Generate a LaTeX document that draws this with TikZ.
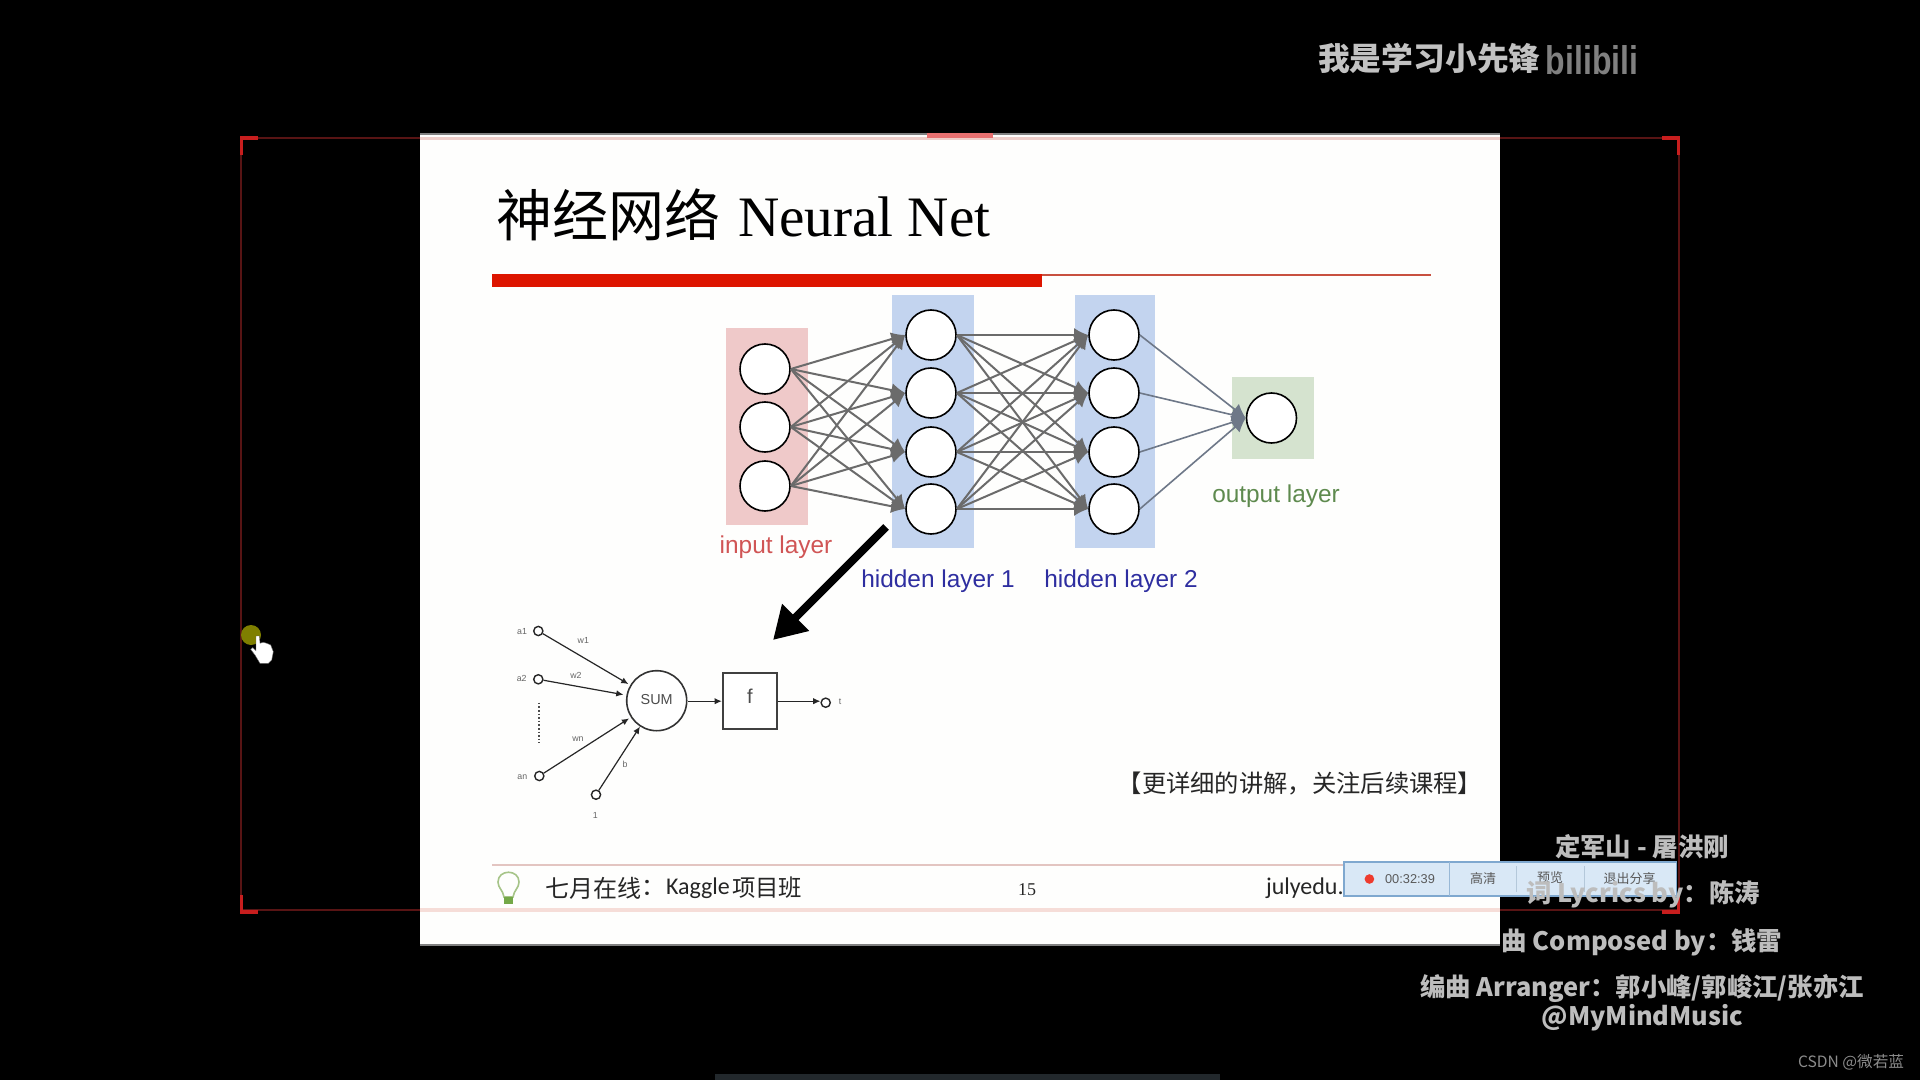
\documentclass[tikz,border=0pt]{standalone}
\usepackage{fontspec}
\usetikzlibrary{arrows.meta}
\setmainfont{Liberation Serif}
\newfontfamily\cjk{Noto Sans CJK SC}
\newfontfamily\arial{Liberation Sans}
\newfontfamily\carl{Carlito}
\newcommand\fsz[1]{\fontsize{#1}{#1}\selectfont}
\definecolor{slidewhite}{HTML}{FEFEFD}
\definecolor{pinkline}{HTML}{EFCFCB}
\definecolor{palepink}{HTML}{F6DDD8}
\definecolor{framedark}{HTML}{581414}
\definecolor{framered}{HTML}{C81E1E}
\definecolor{barred}{HTML}{DD1500}
\definecolor{barthin}{HTML}{C85040}
\definecolor{overlay}{HTML}{BDBDBD}
\definecolor{stripc}{HTML}{22282C}
\definecolor{markc}{HTML}{E87070}
\definecolor{pinkbg}{HTML}{EFC9C9}
\definecolor{bluebg}{HTML}{C3D4EF}
\definecolor{greenbg}{HTML}{D5E3CF}
\definecolor{inputc}{HTML}{D05555}
\definecolor{hiddenc}{HTML}{2E2EA0}
\definecolor{outc}{HTML}{5E8A4E}
\definecolor{outline}{HTML}{6E7888}
\definecolor{bulbl}{HTML}{A6C488}
\definecolor{bulbb}{HTML}{74A848}
\definecolor{tbedge}{HTML}{7FA8CF}
\definecolor{tbfill}{HTML}{D9E8F6}
\definecolor{tbsepa}{HTML}{98B8D6}
\definecolor{tbsepb}{HTML}{B4C8DA}
\definecolor{dotred}{HTML}{EE3B2E}
\definecolor{wmc}{HTML}{C2C2C2}
\definecolor{csdnc}{HTML}{8C8C8C}
\definecolor{bilic}{HTML}{808080}
\definecolor{cursordot}{HTML}{7F7F00}
\tikzset{
  x=0.5pt,y=-0.5pt,
  txt/.style={inner sep=0pt,outer sep=0pt,anchor=center},
  neuron/.style={circle,draw=black,fill=white,line width=0.8pt,minimum size=25pt,inner sep=0pt},
  netarrow/.style={draw=black!58,line width=1pt,-{Latex[length=7pt,width=7pt]}},
  layerlabel/.style={txt,font=\arial\fsz{12.2}},
  port/.style={circle,draw=black!85,fill=white,line width=0.7pt,minimum size=4.6pt,inner sep=0pt},
  wire/.style={draw=black!85,line width=0.6pt,-{Latex[length=3.6pt,width=3.2pt]}},
  small/.style={txt,font=\arial\fsz{4.4},text=black!60},
  lyric/.style={txt,font=\cjk\bfseries\fsz{12.7},text=overlay},
  barlabel/.style={txt,font=\cjk\fsz{6.5},text=black!65}
}
\begin{document}
\begin{tikzpicture}
\useasboundingbox (0,0) rectangle (1920,1080);
\fill[black] (0,0) rectangle (1920,1080);
% bottom strip
\fill[stripc] (715,1074) rectangle (1220,1080);
% frame on black
\draw[framedark,line width=1pt] (241,138) rectangle (1679,910);
% slide
\fill[slidewhite] (420,133) rectangle (1500,945);
\fill[black!50] (420,133) rectangle (1500,135);
\fill[black!50] (420,944) rectangle (1500,945.5);
\draw[pinkline,line width=1.6pt] (420,138.5) -- (1500,138.5);
\draw[palepink,line width=1.6pt] (420,910) -- (1500,910);
\fill[markc] (927,133) rectangle (993,138);
% corners
\fill[framered] (240,136) rectangle (258,140);
\fill[framered] (240,136) rectangle (243,155);
\fill[framered] (1662,136) rectangle (1680,140);
\fill[framered] (1677,136) rectangle (1680,155);
\fill[framered] (240,910) rectangle (258,914);
\fill[framered] (240,895) rectangle (243,914);
\fill[framered] (1662,910) rectangle (1680,914);
\fill[framered] (1677,895) rectangle (1680,914);
% title
\node[txt,anchor=base west] (titlecjk) at (496,237) {\cjk\fsz{28}神经网络};
\node[txt,anchor=base west] (titlelat) at (738,237) {\fsz{28.6}Neural Net};
\fill[barred] (492,274) rectangle (1042,287);
\draw[barthin,line width=0.7pt] (1042,275) -- (1431,275);
% layer backgrounds
\fill[pinkbg] (726,328) rectangle (808,525);
\fill[bluebg] (892,295) rectangle (974,548);
\fill[bluebg] (1075,295) rectangle (1155,548);
\fill[greenbg] (1232,377) rectangle (1314,459);
% neurons
\foreach \n/\y in {1/369,2/427,3/486} \node[neuron] (i\n) at (765,\y) {};
\foreach \n/\y in {1/335,2/393,3/452,4/509} {
  \node[neuron] (p\n) at (931,\y) {};
  \node[neuron] (q\n) at (1114,\y) {};
}
\node[neuron] (o1) at (1271.5,418) {};
% connectors
\foreach \a in {1,2,3} \foreach \b in {1,2,3,4} \draw[netarrow] (i\a.east) -- (p\b.west);
\foreach \a in {1,2,3,4} \foreach \b in {1,2,3,4} \draw[netarrow] (p\a.east) -- (q\b.west);
\foreach \a in {1,2,3,4} \draw[netarrow,line width=0.8pt,draw=outline] (q\a.east) -- (o1.west);
% labels
\node[layerlabel,text=inputc] (linput) at (776,547.5) {input layer};
\node[layerlabel,text=hiddenc] (lh1) at (938,581.5) {hidden layer 1};
\node[layerlabel,text=hiddenc] (lh2) at (1121,581.5) {hidden layer 2};
\node[layerlabel,text=outc] (lout) at (1276,496) {output layer};
% big arrow
\coordinate (bigstart) at (886,527);
\coordinate (bigtip) at (773,640);
\draw[black,line width=4pt,-{Triangle[length=16pt,width=18pt]}] (bigstart) -- (bigtip);
% perceptron
\node[port] (a1) at (538.3,631) {};
\node[port] (a2) at (538.3,679.3) {};
\node[port] (an) at (539.3,776) {};
\node[port] (one) at (596,794.7) {};
\node[circle,draw=black!80,fill=white,line width=0.8pt,minimum size=30pt,inner sep=0pt,font=\arial\fsz{7.2},text=black!70] (sum) at (656.7,700.7) {\raisebox{1.2pt}{SUM}};
\node[draw=black!75,fill=white,line width=0.9pt,minimum width=27pt,minimum height=28pt,inner sep=0pt] (fbox) at (749.7,701.2) {};
\node[txt,font=\arial\fsz{10},text=black!70] (flabel) at (750,696.5) {f};
\node[port] (tport) at (825.7,702.7) {};
\draw[wire,shorten >=1pt] (a1) -- (sum);
\draw[wire,shorten >=1.5pt] (a2) -- (sum);
\draw[wire,shorten >=1pt] (an) -- (sum);
\draw[wire] (one) -- (sum);
\draw[wire] (sum.east |- fbox.center) -- (fbox.west);
\draw[wire] (fbox.east) -- (tport.west |- fbox.center);
\draw[black!70,line width=0.8pt,densely dotted] (539,702.7) -- (539,743);
\node[small] (la1) at (522,632) {a1};
\node[small] (la2) at (521.7,678) {a2};
\node[small] (lan) at (522.3,777) {an};
\node[small] (lw1) at (583.3,640.7) {w1};
\node[small] (lw2) at (576,675) {w2};
\node[small] (lwn) at (578,739) {wn};
\node[small] (lb) at (625,764) {b};
\node[small] (lone) at (595.3,815) {1};
\node[small] (lt) at (840,702) {t};
% note
\node[txt,font=\cjk\fsz{12.15},text=black!85] (note) at (1300,783.5) {【更详细的讲解，关注后续课程】};
% footer
\draw[pinkline!95!black,line width=1.4pt] (492,865) -- (1431,865);
\draw[bulbl,line width=0.8pt] (504,897) .. controls (503,890) and (498,888) .. (498,882) .. controls (498,869) and (519,869) .. (519,882) .. controls (519,888) and (514,890) .. (513,897) -- cycle;
\fill[bulbb] (504,897) rectangle (513,904);
\node[txt,anchor=west,font=\cjk\fsz{12},text=black!85] (foot1) at (545,888) {七月在线};
\node[txt,anchor=west,font=\cjk\fsz{12},text=black!85] (footc) at (641,888) {：};
\node[txt,anchor=west,font=\carl\fsz{12},text=black!85] (foot2) at (666,888) {Kaggle};
\node[txt,anchor=west,font=\cjk\fsz{11.7},text=black!85] (foot3) at (732,888) {项目班};
\node[txt,font=\fsz{9},text=black!85] (pageno) at (1027,890) {15};
\node[txt,anchor=west,font=\carl\fsz{12},text=black!85] (july) at (1266,888) {julyedu.};
% toolbar
\draw[tbedge,fill=tbfill,line width=0.8pt] (1344,862) rectangle (1676.5,896);
\draw[tbsepa,line width=0.6pt] (1449.4,862) -- (1449.4,896);
\draw[tbsepb,line width=0.5pt] (1516.7,866) -- (1516.7,892);
\draw[tbsepb,line width=0.5pt] (1584,866) -- (1584,892);
\fill[dotred] (1369.4,879) circle (2.4pt);
\node[barlabel,font=\arial\fsz{6.4}] (timer) at (1410,879) {00:32:39};
\node[barlabel] (tb1) at (1483,879) {高清};
\node[barlabel] (tb2) at (1550,878) {预览};
\node[barlabel] (tb3) at (1629.5,879) {退出分享};
% overlays
\node[lyric] (ly1) at (1642,847) {定军山 - 屠洪刚};
\node[lyric] (ly2) at (1643,894.5) {词 Lycrics by：陈涛};
\node[lyric] (ly3) at (1642,942) {曲 Composed by：钱雷};
\node[lyric] (ly4) at (1642,989) {编曲 Arranger：郭小峰/郭峻江/张亦江};
\node[lyric] (ly5) at (1642.5,1018) {@MyMindMusic};
\node[txt,anchor=east,font=\cjk\fsz{7.8},text=csdnc] (csdn) at (1904,1062) {CSDN @微若蓝};
\node[txt,anchor=west,font=\cjk\bfseries\fsz{15.9},text=wmc] (wm) at (1318,58) {我是学习小先锋};
\node[txt,font=\arial\bfseries\fsz{20},text=bilic,xscale=0.8] (bili) at (1592,60) {bilibili};
% cursor
\fill[cursordot] (251,635) circle (5pt);
\fill[white,draw=black!60,line width=0.2pt] (256,636) -- (259.3,636) -- (260,643.3) -- (263.3,642.3) -- (266.7,643.3) -- (270.7,645) -- (273.3,651.7) -- (271.7,660) -- (268.3,663.3) -- (260,663.3) -- (255,655) -- (250.7,649.3) -- (252.7,647.7) -- (256,650.7) -- cycle;
\end{tikzpicture}
\end{document}
